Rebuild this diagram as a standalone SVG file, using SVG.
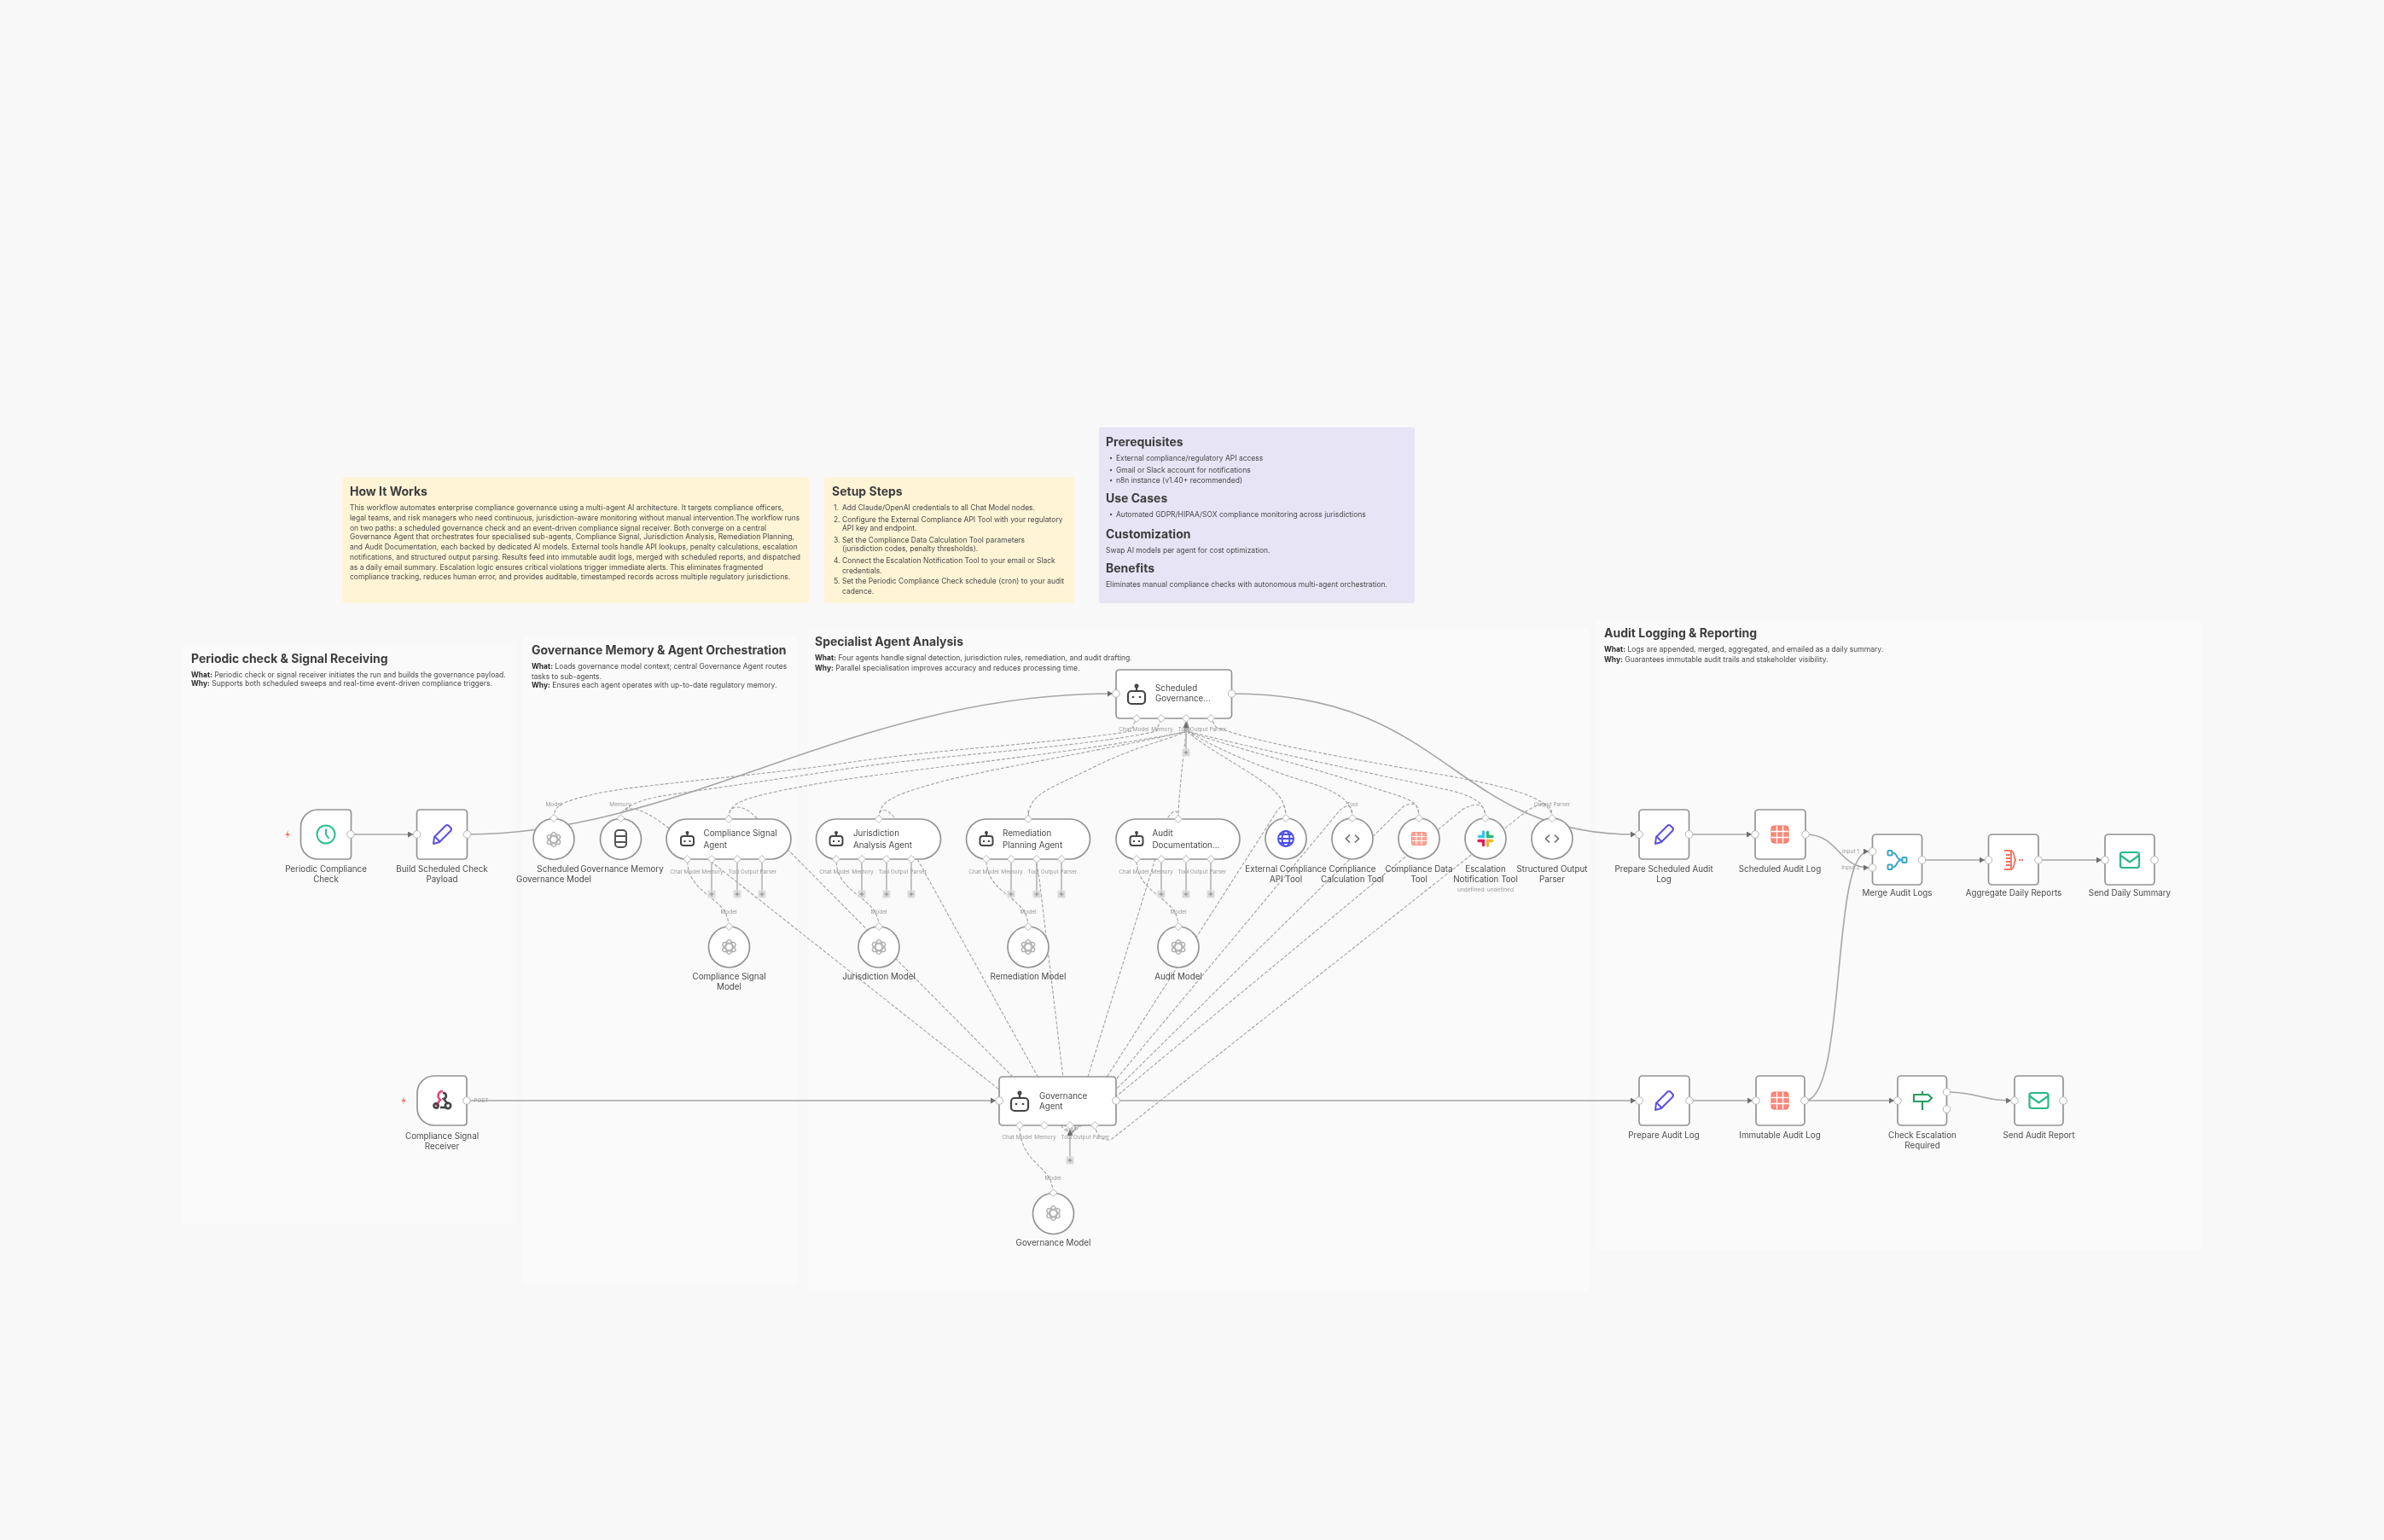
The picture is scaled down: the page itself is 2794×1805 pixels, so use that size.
<svg xmlns="http://www.w3.org/2000/svg" width="2794" height="1805" viewBox="0 0 2794 1805">
<style>
text{font-family:"Inter","Liberation Sans",sans-serif;dominant-baseline:central}
.n{fill:#fff;stroke:#949494;stroke-width:1.7}
.sec{fill:#fafafa;stroke:none}
.l{font-size:9.8px;fill:#4a4a4a;text-anchor:middle}
.al{font-size:9.8px;fill:#4a4a4a}
.sm{font-size:6.5px;fill:#999;text-anchor:middle}
.h{font-size:14px;font-weight:700;fill:#3c3c3c}
.b{font-size:8.5px;fill:#4a4a4a}
.bb{font-weight:700;fill:#2a2a2a}
.c{fill:none;stroke:#a6a6a6;stroke-width:1.6}
.d{fill:none;stroke:#a2a2a2;stroke-width:1.1;stroke-dasharray:4 2}
.s{fill:none;stroke:#aaa;stroke-width:1.4}
.port{fill:#fff;stroke:#b5b5b5;stroke-width:1}
</style>
<defs>
<filter id="soft" filterUnits="userSpaceOnUse" x="0" y="0" width="2794" height="1805"><feGaussianBlur stdDeviation="0.45"/></filter>
<marker id="ar" markerWidth="8" markerHeight="8" refX="6" refY="3.5" orient="auto" markerUnits="userSpaceOnUse"><path d="M0 0L6 3.5L0 7Z" fill="#6e6e6e"/></marker>
<circle id="p" r="4.3" class="port"/>
<path id="dm" d="M0-4.5L4.5 0L0 4.5L-4.5 0Z" class="port"/>
<g id="plus"><rect x="-4.5" y="-4.5" width="9" height="9" rx="1" fill="#dcdcdc"/><path d="M-2.5 0H2.5M0-2.5V2.5" stroke="#888" stroke-width="1"/></g>
<path id="bolt" d="M1-5L-2.5 1H0L-1 5L2.5-1H0Z" fill="#ff6d5a"/>
<g id="i-clock" fill="none" stroke="#2dc08d" stroke-width="2"><circle r="10.5"/><path d="M0-6.5V0L3.5 5"/></g>
<g id="i-pencil" fill="none" stroke="#5b50e0" stroke-width="2" stroke-linejoin="round"><path d="M-10 11L-9 3L4-10Q6-12 8-10L10-8Q12-6 10-4L-3 9Z"/><path d="M-8 3L-2 9"/></g>
<g id="i-brain" fill="none" stroke="#b0b0b0" stroke-width="1.5"><ellipse rx="4" ry="8.5"/><ellipse rx="4" ry="8.5" transform="rotate(60)"/><ellipse rx="4" ry="8.5" transform="rotate(120)"/></g>
<g id="i-db" fill="none" stroke="#555" stroke-width="2"><rect x="-6.500" y="-10" width="13" height="20" rx="4"/><path d="M-6.500-3H6.500M-6.500 4H6.500"/></g>
<g id="i-bot" fill="none" stroke="#444" stroke-width="2.2"><rect x="-10" y="-5" width="20" height="15" rx="4"/><path d="M0-5V-10"/><circle cy="-11" r="1.4"/><path d="M-4 1V3M4 1V3" stroke-width="2.4"/></g>
<g id="i-bots" fill="none" stroke="#444" stroke-width="2"><rect x="-7.500" y="-4" width="15" height="11" rx="3"/><path d="M0-4V-7"/><circle cy="-8" r="1"/><path d="M-3 1V3M3 1V3" stroke-width="2"/></g>
<g id="i-globe" fill="none" stroke="#4d4de8" stroke-width="2"><circle r="9"/><ellipse rx="4.5" ry="9"/><path d="M-9 0H9M-8-5H8M-8 5H8"/></g>
<path id="i-code" d="M-3-4.500L-7.500 0L-3 4.500M3-4.500L7.500 0L3 4.500" fill="none" stroke="#707070" stroke-width="1.7"/>
<g id="i-table"><rect x="-10" y="-10" width="20" height="20" rx="3" fill="#fb8878" stroke="#f36f5e" stroke-width="1"/><path d="M-3.500-10V10M3.500-10V10M-10-3.500H10M-10 3.500H10" stroke="#fff" stroke-width="1.3"/></g>
<g id="i-tables"><rect x="-8.500" y="-7.500" width="17" height="15" rx="2" fill="#fca294" stroke="#f8897a" stroke-width="1"/><path d="M-3-7.500V7.500M3-7.500V7.500M-8.500-2.500H8.500M-8.500 2.500H8.500" stroke="#fff" stroke-width="1.1"/></g>
<g id="i-slack" stroke-width="3.4" stroke-linecap="round"><path d="M-2.500-8V-2.500H-7.500" fill="none" stroke="#36c5f0"/><path d="M8-2.500H2.500V-7.500" fill="none" stroke="#2eb67d"/><path d="M2.500 8V2.500H7.500" fill="none" stroke="#ecb22e"/><path d="M-8 2.500H-2.500V7.500" fill="none" stroke="#e01e5a"/></g>
<g id="i-merge" fill="none" stroke="#3aa6c4" stroke-width="2"><rect x="-11" y="-11" width="5" height="5.500" rx="1"/><rect x="-11" y="5.500" width="5" height="5.500" rx="1"/><rect x="6" y="-3" width="5" height="6" rx="1"/><path d="M-6-8.500C2-8.500-3 0 6 0C-3 0 2 8.500-6 8.500"/></g>
<g id="i-agg" fill="none" stroke="#f36f5e" stroke-width="1.8"><path d="M-11-11H-3V11H-11M-9-6H-4M-9-2H-4M-9 2H-4M-9 6H-4"/><path d="M-3-11C3-8-1 0 3 0C-1 0 3 8-3 11"/><path d="M6 0H11" stroke-dasharray="2 1"/></g>
<g id="i-mail" fill="none" stroke="#26b98a" stroke-width="2.2"><rect x="-11" y="-9" width="22" height="18" rx="2.500"/><path d="M-11-5.500L0 2.500L11-5.500"/></g>
<g id="i-sign" fill="none" stroke="#2a9d60" stroke-width="2.2"><path d="M-10-7H7L11-3L7 1H-10Z"/><path d="M0-11V-7M0 1V11"/></g>
<g id="i-hook" fill="none" stroke-width="2.600"><path d="M1-11C-5-11-6-4-2-1L-7 6" stroke="#e8467c"/><circle cx="-7" cy="6" r="2.600" stroke="#444"/><path d="M-2 8H6" stroke="#444"/><circle cx="7" cy="6" r="3.200" stroke="#444"/><path d="M1-9C6-9 6-3 2-2L7 4" stroke="#444"/></g>
</defs>

<rect width="2794" height="1805" fill="#f8f8f8"/>
<g filter="url(#soft)">
<g id="sections">
<rect class="sec" x="214" y="756" width="390" height="679"/>
<rect class="sec" x="613" y="745" width="321" height="761"/>
<rect class="sec" x="947" y="736" width="915" height="779"/>
<rect class="sec" x="1871" y="727" width="709" height="738"/>
<text class="h" x="224" y="771">Periodic check &amp; Signal Receiving</text>
<text class="b" x="224" y="791"><tspan class="bb">What:</tspan> Periodic check or signal receiver initiates the run and builds the governance payload.</text>
<text class="b" x="224" y="801"><tspan class="bb">Why:</tspan> Supports both scheduled sweeps and real-time event-driven compliance triggers.</text>
<text class="h" x="623" y="761">Governance Memory &amp; Agent Orchestration</text>
<text class="b" x="623" y="781"><tspan class="bb">What:</tspan> Loads governance model context; central Governance Agent routes</text>
<text class="b" x="623" y="793">tasks to sub-agents.</text>
<text class="b" x="623" y="803"><tspan class="bb">Why:</tspan> Ensures each agent operates with up-to-date regulatory memory.</text>
<text class="h" x="955" y="751">Specialist Agent Analysis</text>
<text class="b" x="955" y="771"><tspan class="bb">What:</tspan> Four agents handle signal detection, jurisdiction rules, remediation, and audit drafting.</text>
<text class="b" x="955" y="783"><tspan class="bb">Why:</tspan> Parallel specialisation improves accuracy and reduces processing time.</text>
<text class="h" x="1880" y="741">Audit Logging &amp; Reporting</text>
<text class="b" x="1880" y="761"><tspan class="bb">What:</tspan> Logs are appended, merged, aggregated, and emailed as a daily summary.</text>
<text class="b" x="1880" y="773"><tspan class="bb">Why:</tspan> Guarantees immutable audit trails and stakeholder visibility.</text>
</g>

<g id="note-how">
<rect x="401" y="559" width="547" height="148" rx="3" fill="#fff4d6"/>
<text class="h" x="410" y="575">How It Works</text>
<text class="b" x="410" y="595">This workflow automates enterprise compliance governance using a multi-agent AI architecture. It targets compliance officers,</text>
<text class="b" x="410" y="607">legal teams, and risk managers who need continuous, jurisdiction-aware monitoring without manual intervention.The workflow runs</text>
<text class="b" x="410" y="619">on two paths: a scheduled governance check and an event-driven compliance signal receiver. Both converge on a central</text>
<text class="b" x="410" y="629">Governance Agent that orchestrates four specialised sub-agents, Compliance Signal, Jurisdiction Analysis, Remediation Planning,</text>
<text class="b" x="410" y="641">and Audit Documentation, each backed by dedicated AI models. External tools handle API lookups, penalty calculations, escalation</text>
<text class="b" x="410" y="653">notifications, and structured output parsing. Results feed into immutable audit logs, merged with scheduled reports, and dispatched</text>
<text class="b" x="410" y="665">as a daily email summary. Escalation logic ensures critical violations trigger immediate alerts. This eliminates fragmented</text>
<text class="b" x="410" y="676">compliance tracking, reduces human error, and provides auditable, timestamped records across multiple regulatory jurisdictions.</text>
</g>
<g id="note-setup">
<rect x="966" y="559" width="293" height="148" rx="3" fill="#fff4d6"/>
<text class="h" x="975" y="575">Setup Steps</text>
<text class="b" x="977" y="595">1.</text><text class="b" x="987" y="595">Add Claude/OpenAI credentials to all Chat Model nodes.</text>
<text class="b" x="977" y="609">2.</text><text class="b" x="987" y="609">Configure the External Compliance API Tool with your regulatory</text>
<text class="b" x="987" y="619">API key and endpoint.</text>
<text class="b" x="977" y="633">3.</text><text class="b" x="987" y="633">Set the Compliance Data Calculation Tool parameters</text>
<text class="b" x="987" y="643">(jurisdiction codes, penalty thresholds).</text>
<text class="b" x="977" y="657">4.</text><text class="b" x="987" y="657">Connect the Escalation Notification Tool to your email or Slack</text>
<text class="b" x="987" y="669">credentials.</text>
<text class="b" x="977" y="681">5.</text><text class="b" x="987" y="681">Set the Periodic Compliance Check schedule (cron) to your audit</text>
<text class="b" x="987" y="693">cadence.</text>
</g>
<g id="note-prereq">
<rect x="1288" y="501" width="370" height="206" rx="3" fill="#e6e4f5"/>
<text class="h" x="1296" y="517">Prerequisites</text>
<circle cx="1302" cy="537" r="1.2" fill="#555"/><text class="b" x="1308" y="537">External compliance/regulatory API access</text>
<circle cx="1302" cy="551" r="1.2" fill="#555"/><text class="b" x="1308" y="551">Gmail or Slack account for notifications</text>
<circle cx="1302" cy="563" r="1.2" fill="#555"/><text class="b" x="1308" y="563">n8n instance (v1.40+ recommended)</text>
<text class="h" x="1296" y="583">Use Cases</text>
<circle cx="1302" cy="603" r="1.2" fill="#555"/><text class="b" x="1308" y="603">Automated GDPR/HIPAA/SOX compliance monitoring across jurisdictions</text>
<text class="h" x="1296" y="625">Customization</text>
<text class="b" x="1296" y="645">Swap AI models per agent for cost optimization.</text>
<text class="h" x="1296" y="665">Benefits</text>
<text class="b" x="1296" y="685">Eliminates manual compliance checks with autonomous multi-agent orchestration.</text>
</g>

<g id="connectors">
<path class="c" marker-end="url(#ar)" d="M411 978H484"/>
<path class="c" marker-end="url(#ar)" d="M547 978C800 978 1000 813 1304 813"/>
<path class="c" marker-end="url(#ar)" d="M1443 813C1700 813 1700 978 1917 978"/>
<path class="c" marker-end="url(#ar)" d="M547 1290H1167"/>
<path class="c" marker-end="url(#ar)" d="M1308 1290H1917"/>
<path class="c" marker-end="url(#ar)" d="M1979 978H2053"/>
<path class="c" marker-end="url(#ar)" d="M1980 1290H2054"/>
<path class="c" marker-end="url(#ar)" d="M2115 1290H2220"/>
<path class="c" marker-end="url(#ar)" d="M2281 1280C2320 1280 2320 1290 2357 1290"/>
<path class="c" marker-end="url(#ar)" d="M2116 978C2155 978 2155 1017 2190 1017"/>
<path class="c" marker-end="url(#ar)" d="M2115 1290C2165 1290 2145 998 2190 998"/>
<path class="c" marker-end="url(#ar)" d="M2252 1008H2326"/>
<path class="c" marker-end="url(#ar)" d="M2389 1008H2463"/>
<path class="d" d="M649 959C649 945 655 940 700 930S900 908 1000 893S1250 870 1325 857L1332 842"/>
<path class="d" d="M727 959C727 948 745 938 776 933S900 915 1000 900S1280 875 1355 857L1361 842"/>
<path class="d" d="M854 959C854 940 870 935 950 920S1250 885 1388 858L1390 842"/>
<path class="d" d="M1030 959C1030 940 1045 932 1100 917S1300 878 1388 858L1390 842"/>
<path class="d" d="M1205 959C1205 930 1230 925 1280 900S1360 870 1389 858L1390 842"/>
<path class="d" d="M1381 959C1381 940 1385 900 1390 860V842"/>
<path class="d" d="M1507 959C1507 935 1495 925 1460 903S1410 873 1392 858L1390 842"/>
<path class="d" d="M1585 959C1585 935 1560 925 1527 915S1440 885 1393 858L1390 842"/>
<path class="d" d="M1663 959C1663 935 1650 937 1593 918S1440 875 1394 858L1390 842"/>
<path class="d" d="M1741 959C1741 940 1725 932 1693 925S1480 880 1395 858L1390 842"/>
<path class="d" d="M1819 959C1819 940 1790 928 1727 915S1480 875 1425 852L1419 842"/>
<path class="s" d="M1390 882V846"/>
<path d="M1386.500 853L1390 846L1393.500 853Z" fill="#6e6e6e"/>
<path class="d" d="M727 959C727 945 745 940 783 970L1224 1319"/>
<path class="d" d="M854 959C854 942 870 942 885 957L1254 1330"/>
<path class="d" d="M1030 959C1030 945 1040 948 1048 958L1254 1330"/>
<path class="d" d="M1205 959L1205 950C1208 980 1212 1000 1218 1030L1254 1330"/>
<path class="d" d="M1381 959C1381 948 1376 948 1369 958L1254 1330"/>
<path class="d" d="M1507 959C1507 945 1505 940 1497 950L1254 1330"/>
<path class="d" d="M1585 959C1585 945 1582 940 1570 950L1254 1330"/>
<path class="d" d="M1663 959C1663 945 1660 938 1645 945L1254 1330"/>
<path class="d" d="M1741 959C1741 945 1735 938 1715 948L1254 1330"/>
<path class="d" d="M1819 959C1819 945 1815 935 1790 950L1303 1335Q1288 1340 1283 1319"/>
<path class="s" d="M1254 1360V1324"/>
<path d="M1250.500 1331L1254 1324L1257.500 1331Z" fill="#6e6e6e"/>
<path class="d" d="M1234 1398C1234 1365 1195 1365 1195 1319"/>
<path class="d" d="M854 1086C854 1050 805 1050 805.600 1007"/>
<path class="s" d="M834 1007V1048M864 1007V1048M893 1007V1048"/>
<path class="d" d="M1030 1086C1030 1050 980 1050 980 1007"/>
<path class="s" d="M1010 1007V1048M1039 1007V1048M1068 1007V1048"/>
<path class="d" d="M1205 1086C1205 1050 1156 1050 1156 1007"/>
<path class="s" d="M1185 1007V1048M1215 1007V1048M1244 1007V1048"/>
<path class="d" d="M1381 1086C1381 1050 1332 1050 1332 1007"/>
<path class="s" d="M1361 1007V1048M1390 1007V1048M1419 1007V1048"/>
<text class="sm" x="564" y="1290">POST</text>
<text class="sm" x="2169" y="998">Input 1</text>
<text class="sm" x="2169" y="1017">Input 2</text>
<text class="sm" x="649" y="943">Model</text>
<text class="sm" x="727" y="943">Memory</text>
<text class="sm" x="1585" y="943">Tool</text>
<text class="sm" x="1819" y="943">Output Parser</text>
</g>

<g id="node-periodic"><path class="n" d="M372.500 949H407.500Q411.500 949 411.500 953V1003Q411.500 1007 407.500 1007H372.500A20 20 0 0 1 352.500 987V969A20 20 0 0 1 372.500 949Z"/><use href="#i-clock" x="382" y="978"/><use href="#bolt" x="337" y="978"/><use href="#p" x="411" y="978"/><text class="l" x="382" y="1018">Periodic Compliance</text><text class="l" x="382" y="1030">Check</text></g>
<g id="node-build"><rect class="n" x="488.500" y="949" width="59" height="58" rx="4"/><use href="#i-pencil" x="518" y="978"/><use href="#p" x="488.500" y="978"/><use href="#p" x="547.500" y="978"/><text class="l" x="518" y="1018">Build Scheduled Check</text><text class="l" x="518" y="1030">Payload</text></g>
<g id="node-receiver"><path class="n" d="M509 1261H543Q547 1261 547 1265V1315Q547 1319 543 1319H509A20 20 0 0 1 489 1299V1281A20 20 0 0 1 509 1261Z"/><use href="#i-hook" x="518" y="1290"/><use href="#bolt" x="473" y="1290"/><use href="#p" x="547" y="1290"/><text class="l" x="518" y="1331">Compliance Signal</text><text class="l" x="518" y="1343">Receiver</text></g>
<g id="node-sched-model"><circle class="n" cx="649" cy="983.500" r="24"/><use href="#i-brain" x="649" y="984"/><use href="#dm" x="649" y="959"/><text class="l" x="654" y="1018">Scheduled</text><text class="l" x="649" y="1030">Governance Model</text></g>
<g id="node-memory"><circle class="n" cx="727.500" cy="983.500" r="24"/><use href="#i-db" x="727.500" y="983"/><use href="#dm" x="727.500" y="959"/><text class="l" x="729" y="1018">Governance Memory</text></g>

<g id="node-signal-agent"><rect class="n" x="781" y="960" width="146" height="47" rx="23.500"/><use href="#i-bots" x="805.500" y="984"/><text class="al" x="824.500" y="976">Compliance Signal</text><text class="al" x="824.500" y="990">Agent</text><use href="#dm" x="854" y="960"/><use href="#dm" x="805.600" y="1007"/><use href="#dm" x="834" y="1007"/><use href="#dm" x="864" y="1007"/><use href="#dm" x="893" y="1007"/><text class="sm" x="803" y="1022">Chat Model</text><text class="sm" x="835" y="1022">Memory</text><text class="sm" x="860" y="1022">Tool</text><text class="sm" x="889" y="1022">Output Parser</text><use href="#plus" x="834" y="1048"/><use href="#plus" x="864" y="1048"/><use href="#plus" x="893" y="1048"/></g>
<g id="node-signal-model"><circle class="n" cx="854.500" cy="1110" r="24"/><use href="#i-brain" x="854.500" y="1110"/><use href="#dm" x="854.500" y="1086"/><text class="sm" x="854" y="1069">Model</text><text class="l" x="854.500" y="1144">Compliance Signal</text><text class="l" x="854.500" y="1156">Model</text></g>

<g id="node-juris-agent"><rect class="n" x="956.500" y="960" width="146" height="47" rx="23.500"/><use href="#i-bots" x="980" y="984"/><text class="al" x="1000" y="976">Jurisdiction</text><text class="al" x="1000" y="990">Analysis Agent</text><use href="#dm" x="1030" y="960"/><use href="#dm" x="980" y="1007"/><use href="#dm" x="1010" y="1007"/><use href="#dm" x="1039" y="1007"/><use href="#dm" x="1068" y="1007"/><text class="sm" x="978" y="1022">Chat Model</text><text class="sm" x="1011" y="1022">Memory</text><text class="sm" x="1036" y="1022">Tool</text><text class="sm" x="1065" y="1022">Output Parser</text><use href="#plus" x="1010" y="1048"/><use href="#plus" x="1039" y="1048"/><use href="#plus" x="1068" y="1048"/></g>
<g id="node-juris-model"><circle class="n" cx="1030" cy="1110" r="24"/><use href="#i-brain" x="1030" y="1110"/><use href="#dm" x="1030" y="1086"/><text class="sm" x="1030" y="1069">Model</text><text class="l" x="1030" y="1144">Jurisdiction Model</text></g>

<g id="node-remed-agent"><rect class="n" x="1132.500" y="960" width="145" height="47" rx="23.500"/><use href="#i-bots" x="1156" y="984"/><text class="al" x="1175" y="976">Remediation</text><text class="al" x="1175" y="990">Planning Agent</text><use href="#dm" x="1205" y="960"/><use href="#dm" x="1156" y="1007"/><use href="#dm" x="1185" y="1007"/><use href="#dm" x="1215" y="1007"/><use href="#dm" x="1244" y="1007"/><text class="sm" x="1153" y="1022">Chat Model</text><text class="sm" x="1186" y="1022">Memory</text><text class="sm" x="1211" y="1022">Tool</text><text class="sm" x="1241" y="1022">Output Parser</text><use href="#plus" x="1185" y="1048"/><use href="#plus" x="1215" y="1048"/><use href="#plus" x="1244" y="1048"/></g>
<g id="node-remed-model"><circle class="n" cx="1205" cy="1110" r="24"/><use href="#i-brain" x="1205" y="1110"/><use href="#dm" x="1205" y="1086"/><text class="sm" x="1205" y="1069">Model</text><text class="l" x="1205" y="1144">Remediation Model</text></g>

<g id="node-audit-agent"><rect class="n" x="1308" y="960" width="145" height="47" rx="23.500"/><use href="#i-bots" x="1332" y="984"/><text class="al" x="1350.500" y="976">Audit</text><text class="al" x="1350.500" y="990">Documentation...</text><use href="#dm" x="1381" y="960"/><use href="#dm" x="1332" y="1007"/><use href="#dm" x="1361" y="1007"/><use href="#dm" x="1390" y="1007"/><use href="#dm" x="1419" y="1007"/><text class="sm" x="1329" y="1022">Chat Model</text><text class="sm" x="1362" y="1022">Memory</text><text class="sm" x="1387" y="1022">Tool</text><text class="sm" x="1416" y="1022">Output Parser</text><use href="#plus" x="1361" y="1048"/><use href="#plus" x="1390" y="1048"/><use href="#plus" x="1419" y="1048"/></g>
<g id="node-audit-model"><circle class="n" cx="1381" cy="1110" r="24"/><use href="#i-brain" x="1381" y="1110"/><use href="#dm" x="1381" y="1086"/><text class="sm" x="1381" y="1069">Model</text><text class="l" x="1381" y="1144">Audit Model</text></g>

<g id="node-sched-agent"><rect class="n" x="1308" y="785" width="135.500" height="57" rx="4"/><use href="#i-bot" x="1332" y="815"/><text class="al" x="1354" y="806">Scheduled</text><text class="al" x="1354" y="818">Governance...</text><use href="#p" x="1308" y="813"/><use href="#p" x="1443.500" y="813"/><use href="#dm" x="1332" y="842"/><use href="#dm" x="1361" y="842"/><use href="#dm" x="1390" y="842"/><use href="#dm" x="1419" y="842"/><text class="sm" x="1329" y="855">Chat Model</text><text class="sm" x="1362" y="855">Memory</text><text class="sm" x="1387" y="855">Tool</text><text class="sm" x="1416" y="855">Output Parser</text><use href="#plus" x="1390" y="882"/></g>
<g id="node-gov-agent"><rect class="n" x="1171" y="1262" width="137" height="57" rx="4"/><use href="#i-bot" x="1195" y="1292"/><text class="al" x="1218" y="1284">Governance</text><text class="al" x="1218" y="1296">Agent</text><use href="#p" x="1171" y="1290"/><use href="#p" x="1308" y="1290"/><use href="#dm" x="1195" y="1319"/><use href="#dm" x="1224" y="1319"/><use href="#dm" x="1254" y="1319"/><use href="#dm" x="1283" y="1319"/><text class="sm" x="1192" y="1333">Chat Model</text><text class="sm" x="1225" y="1333">Memory</text><text class="sm" x="1250" y="1333">Tool</text><text class="sm" x="1279" y="1333">Output Parser</text><use href="#plus" x="1254" y="1360"/></g>
<g id="node-gov-model"><circle class="n" cx="1234.500" cy="1422.500" r="24"/><use href="#i-brain" x="1234.500" y="1422"/><use href="#dm" x="1234.500" y="1398"/><text class="sm" x="1234" y="1381">Model</text><text class="l" x="1234.500" y="1456">Governance Model</text></g>

<g id="node-ext-tool"><circle class="n" cx="1507" cy="983" r="24"/><use href="#i-globe" x="1507" y="983"/><use href="#dm" x="1507" y="959"/><text class="l" x="1507" y="1018">External Compliance</text><text class="l" x="1507" y="1030">API Tool</text></g>
<g id="node-calc-tool"><circle class="n" cx="1585" cy="983" r="24"/><use href="#i-code" x="1585" y="983"/><use href="#dm" x="1585" y="959"/><text class="l" x="1585" y="1018">Compliance</text><text class="l" x="1585" y="1030">Calculation Tool</text></g>
<g id="node-data-tool"><circle class="n" cx="1663" cy="983" r="24"/><use href="#i-tables" x="1663" y="983"/><use href="#dm" x="1663" y="959"/><text class="l" x="1663" y="1018">Compliance Data</text><text class="l" x="1663" y="1030">Tool</text></g>
<g id="node-esc-tool"><circle class="n" cx="1741" cy="983" r="24"/><use href="#i-slack" x="1741" y="983"/><use href="#dm" x="1741" y="959"/><text class="l" x="1741" y="1018">Escalation</text><text class="l" x="1741" y="1030">Notification Tool</text><text class="sm" x="1741" y="1043">undefined: undefined</text></g>
<g id="node-parser"><circle class="n" cx="1819" cy="983" r="24"/><use href="#i-code" x="1819" y="983"/><use href="#dm" x="1819" y="959"/><text class="l" x="1819" y="1018">Structured Output</text><text class="l" x="1819" y="1030">Parser</text></g>

<g id="node-prep-sched"><rect class="n" x="1921" y="949" width="58.500" height="58" rx="4"/><use href="#i-pencil" x="1950" y="978"/><use href="#p" x="1921" y="978"/><use href="#p" x="1979.500" y="978"/><text class="l" x="1950" y="1018">Prepare Scheduled Audit</text><text class="l" x="1950" y="1030">Log</text></g>
<g id="node-sched-log"><rect class="n" x="2057" y="949" width="59" height="58" rx="4"/><use href="#i-table" x="2086" y="978"/><use href="#p" x="2057" y="978"/><use href="#p" x="2116" y="978"/><text class="l" x="2086" y="1018">Scheduled Audit Log</text></g>
<g id="node-merge"><rect class="n" x="2194.500" y="978" width="58" height="59" rx="4"/><use href="#i-merge" x="2223.500" y="1008"/><use href="#p" x="2194.500" y="998"/><use href="#p" x="2194.500" y="1017"/><use href="#p" x="2252.500" y="1008"/><text class="l" x="2223.500" y="1046">Merge Audit Logs</text></g>
<g id="node-aggregate"><rect class="n" x="2330.500" y="978" width="58.500" height="59" rx="4"/><use href="#i-agg" x="2360" y="1008"/><use href="#p" x="2330.500" y="1008"/><use href="#p" x="2389" y="1008"/><text class="l" x="2360" y="1046">Aggregate Daily Reports</text></g>
<g id="node-send-daily"><rect class="n" x="2467" y="978" width="58" height="59" rx="4"/><use href="#i-mail" x="2496" y="1008"/><use href="#p" x="2467" y="1008"/><use href="#p" x="2525" y="1008"/><text class="l" x="2496" y="1046">Send Daily Summary</text></g>

<g id="node-prep-audit"><rect class="n" x="1921" y="1261" width="59" height="58" rx="4"/><use href="#i-pencil" x="1950" y="1290"/><use href="#p" x="1921" y="1290"/><use href="#p" x="1980" y="1290"/><text class="l" x="1950" y="1330">Prepare Audit Log</text></g>
<g id="node-immutable"><rect class="n" x="2058" y="1261" width="57" height="58" rx="4"/><use href="#i-table" x="2086" y="1290"/><use href="#p" x="2058" y="1290"/><use href="#p" x="2115" y="1290"/><text class="l" x="2086" y="1330">Immutable Audit Log</text></g>
<g id="node-check"><rect class="n" x="2224" y="1261" width="57.500" height="58" rx="4"/><use href="#i-sign" x="2253" y="1290"/><use href="#p" x="2224" y="1290"/><use href="#p" x="2281.500" y="1280"/><use href="#p" x="2281.500" y="1300"/><text class="l" x="2253" y="1330">Check Escalation</text><text class="l" x="2253" y="1342">Required</text></g>
<g id="node-send-report"><rect class="n" x="2361" y="1261" width="57" height="58" rx="4"/><use href="#i-mail" x="2389.500" y="1290"/><use href="#p" x="2361" y="1290"/><use href="#p" x="2418" y="1290"/><text class="l" x="2389.500" y="1330">Send Audit Report</text></g>
</g>
</svg>
